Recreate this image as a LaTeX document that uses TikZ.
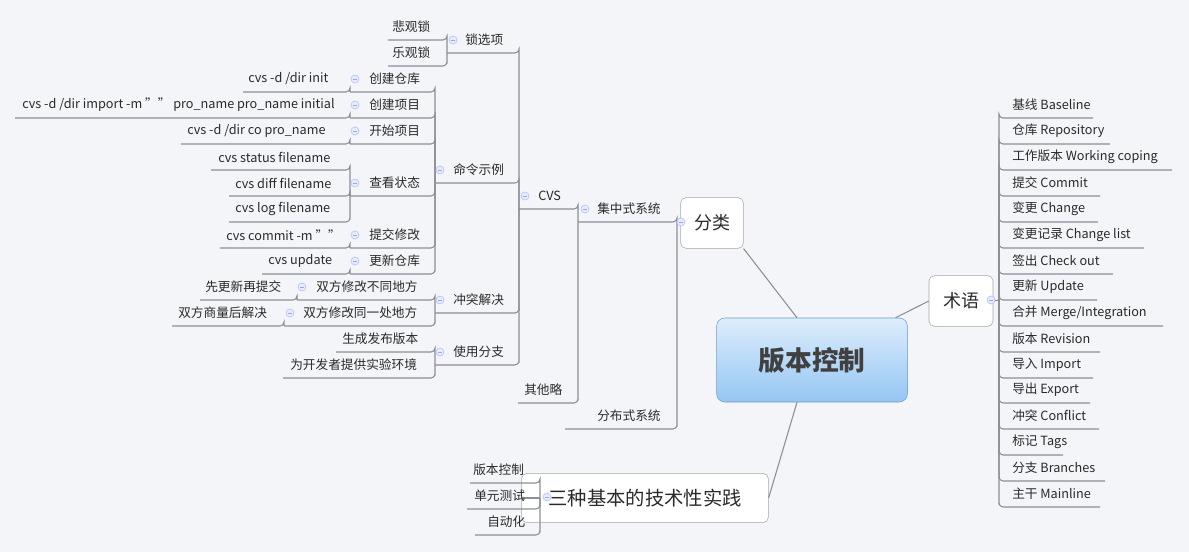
\documentclass[tikz,border=0pt]{standalone}
\usepackage{fontspec}
\setmainfont{Noto Sans CJK SC}
\begin{document}
\definecolor{bg}{HTML}{F3F5F8}
\definecolor{ln}{HTML}{8C9096}
\definecolor{tx}{HTML}{2A2A2A}
\definecolor{rtop}{HTML}{DDEDFC}
\definecolor{rbot}{HTML}{95C6F3}
\definecolor{rbd}{HTML}{6F9BC6}
\definecolor{ic}{HTML}{C9DCF2}
\begin{tikzpicture}[x=0.75pt,y=-0.75pt,
  t/.style={font=\fontsize{9.5}{11}\selectfont,text=tx,inner sep=0pt,anchor=west},
  ln/.style={draw=ln,line width=0.8pt,rounded corners=3pt},
  box/.style={draw=ln!80,fill=white,rounded corners=4pt,font=\fontsize{13.5}{15}\selectfont,text=tx,inner sep=0pt},
  icon/.style={draw=ic!70!blue!60,fill=ic!50,line width=0.5pt}]
\useasboundingbox (0,0) rectangle (1189,552);
\fill[bg] (0,0) rectangle (1189,552);
\newcommand\itm[6]{\node[t] (#1) at (#2,#3) {#6};
  \coordinate (#1-l) at ({#4},{#3+13}); \coordinate (#1-r) at ({#5},{#3+13});}
\newcommand\conL[2]{\draw[ln] (#1-l) |- (#2-r) -- (#2-l);}
\newcommand\conR[2]{\draw[ln] (#1-r) |- (#2-l) -- (#2-r);}
\newcommand\ico[2]{\draw[icon] (#1,#2) circle (4); \draw[ic!30!blue!50,line width=0.6pt] (#1-2,#2) -- (#1+2,#2);}
% main boxes
\node[draw=rbd,rounded corners=6pt,top color=rtop,bottom color=rbot,minimum width=143,minimum height=63,font=\fontsize{20}{22}\selectfont\bfseries,text=black!75] (root) at (812,360) {版本控制};
\node[box,minimum width=47,minimum height=38] (fl) at (712,223) {分类};
\node[box,minimum width=48,minimum height=38] (sy) at (961,301) {术语};
\node[box,minimum width=185,minimum height=37,font=\fontsize{14.5}{16}\selectfont] (sz) at (645,498) {三种基本的技术性实践};
\draw[ln] (root.north)++(-15,0) -- (fl.south east);
\draw[ln] (root.north east)++(-12,0) -- (sy.west);
\draw[ln] (root.south)++(-15,0) -- (sz.east);
\coordinate (fl-l) at (677,222);
\coordinate (sy-r) at (999,300);
\coordinate (sz-l) at (540,498);
\draw[ln] (fl.west) -- (fl-l);
\draw[ln] (sy.east) -- (sy-r);
\draw[ln] (sz.west) -- (sz-l);
% left tree
\itm{jz}{597}{209}{578}{677}{集中式系统}
\itm{fb}{597}{416}{565}{677}{分布式系统}
\itm{cvs}{538}{196}{519}{578}{CVS}
\itm{qt}{524}{390}{518}{578}{其他略}
\itm{sx}{465}{40}{447}{519}{锁选项}
\itm{ml}{453}{170}{435}{519}{命令示例}
\itm{ct}{453}{300}{435}{519}{冲突解决}
\itm{fz}{453}{352}{435}{519}{使用分支}
\itm{bg}{392}{27}{388}{447}{悲观锁}
\itm{lg}{392}{53}{388}{447}{乐观锁}
\itm{c1}{369}{79}{350}{435}{创建仓库}
\itm{c1a}{248}{79}{243}{350}{cvs -d /dir init}
\itm{c2}{369}{105}{350}{435}{创建项目}
\itm{c2a}{22}{105}{15}{350}{cvs -d /dir import -m "" pro\_name pro\_name initial}
\itm{c3}{369}{131}{350}{435}{开始项目}
\itm{c3a}{187}{131}{181}{350}{cvs -d /dir co pro\_name}
\itm{c4}{369}{183}{350}{435}{查看状态}
\itm{c4a}{218}{157}{211}{350}{cvs status filename}
\itm{c4b}{235}{183}{229}{350}{cvs diff filename}
\itm{c4c}{235}{209}{229}{350}{cvs log filename}
\itm{c5}{369}{235}{350}{435}{提交修改}
\itm{c5a}{226}{235}{220}{350}{cvs commit -m ""}
\itm{c6}{369}{261}{350}{435}{更新仓库}
\itm{c6a}{268}{261}{262}{350}{cvs update}
\itm{d1}{316}{287}{297}{435}{双方修改不同地方}
\itm{d1a}{205}{287}{200}{297}{先更新再提交}
\itm{d2}{303}{313}{284}{435}{双方修改同一处地方}
\itm{d2a}{178}{313}{172}{284}{双方商量后解决}
\itm{e1}{342}{339}{336}{435}{生成发布版本}
\itm{e2}{290}{365}{283}{435}{为开发者提供实验环境}
\itm{p1}{473}{470}{470}{540}{版本控制}
\itm{p2}{474}{496}{467}{540}{单元测试}
\itm{p3}{487}{522}{475}{540}{自动化}
\conL{fl}{jz}\conL{fl}{fb}
\conL{jz}{cvs}\conL{jz}{qt}
\conL{cvs}{sx}\conL{cvs}{ml}\conL{cvs}{ct}\conL{cvs}{fz}
\conL{sx}{bg}\conL{sx}{lg}
\conL{ml}{c1}\conL{ml}{c2}\conL{ml}{c3}\conL{ml}{c4}\conL{ml}{c5}\conL{ml}{c6}
\conL{c1}{c1a}\conL{c2}{c2a}\conL{c3}{c3a}
\conL{c4}{c4a}\conL{c4}{c4b}\conL{c4}{c4c}
\conL{c5}{c5a}\conL{c6}{c6a}
\conL{ct}{d1}\conL{ct}{d2}\conL{d1}{d1a}\conL{d2}{d2a}
\conL{fz}{e1}\conL{fz}{e2}
\conL{sz}{p1}\conL{sz}{p2}\conL{sz}{p3}
% right tree
\itm{t1}{1012}{105}{999}{1093}{基线 Baseline}
\itm{t2}{1012}{131}{999}{1110}{仓库 Repository}
\itm{t3}{1012}{157}{999}{1172}{工作版本 Working coping}
\itm{t4}{1012}{183}{999}{1100}{提交 Commit}
\itm{t5}{1012}{209}{999}{1098}{变更 Change}
\itm{t6}{1012}{235}{999}{1144}{变更记录 Change list}
\itm{t7}{1012}{261}{999}{1113}{签出 Check out}
\itm{t8}{1012}{287}{999}{1097}{更新 Update}
\itm{t9}{1012}{313}{999}{1163}{合并 Merge/Integration}
\itm{t10}{1012}{339}{999}{1100}{版本 Revision}
\itm{t11}{1012}{365}{999}{1093}{导入 Import}
\itm{t12}{1012}{390}{999}{1090}{导出 Export}
\itm{t13}{1012}{416}{999}{1099}{冲突 Conflict}
\itm{t14}{1012}{442}{999}{1063}{标记 Tags}
\itm{t15}{1012}{468}{999}{1105}{分支 Branches}
\itm{t16}{1012}{494}{999}{1100}{主干 Mainline}
\foreach \i in {1,...,16} {\conR{sy}{t\i}}
% collapse icons
\ico{453}{40}\ico{440}{170}\ico{440}{300}\ico{440}{352}
\ico{355}{79}\ico{355}{105}\ico{355}{131}\ico{355}{183}\ico{355}{235}\ico{355}{261}
\ico{302}{287}\ico{290}{313}
\ico{525}{196}\ico{585}{209}\ico{681}{222}\ico{547}{497}\ico{991}{300}
\end{tikzpicture}
\end{document}
